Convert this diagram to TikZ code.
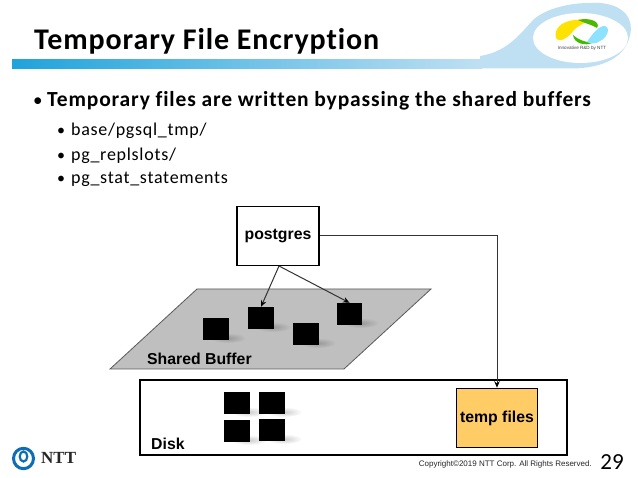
\documentclass[tikz,border=0pt]{standalone}
\usepackage{fontspec}
\setmainfont{Carlito}
\newfontfamily\arial{Liberation Sans}
\newfontfamily\nttfont{Liberation Serif}
\newfontfamily\titlefont[LetterSpace=3,Ligatures=NoCommon]{Carlito}
\newfontfamily\bodyfont[LetterSpace=4,Ligatures=NoCommon]{Carlito}
\usetikzlibrary{arrows.meta,shadings,fadings}
\tikzfading[name=softfade,inner color=transparent!0,outer color=transparent!100]
\definecolor{barL}{HTML}{1FA3DB}
\definecolor{barM}{HTML}{BFE0F3}
\definecolor{plane}{HTML}{BFBFBF}
\definecolor{tempc}{HTML}{FFCC66}
\definecolor{nttblue}{HTML}{0F6CB6}
\tikzset{
  x=1pt,y=-1pt,
  box/.style={draw=black,line width=1.5pt,fill=white,inner sep=0pt},
  lab/.style={font=\arial\bfseries\fontsize{15.8}{18}\selectfont,text=black,inner sep=0pt},
  block/.style={fill=black,draw=none,inner sep=0pt,minimum width=25.5pt,minimum height=22pt},
  conn/.style={draw=black!80,line width=1pt,-{Stealth[length=6.5pt,width=5.5pt,black]}},
  bullet1/.style={font=\bodyfont\fontsize{21.5}{24}\selectfont\bfseries,anchor=base west,inner sep=0pt},
  bullet2/.style={font=\bodyfont\fontsize{18}{21}\selectfont,anchor=base west,inner sep=0pt},
  softshadow/.style={fill=black,opacity=.2,path fading=softfade},
}
\begin{document}
\begin{tikzpicture}
\useasboundingbox (0,0) rectangle (638,478);
\fill[white] (0,0) rectangle (638,478);
% header band
\shade[left color=barL,right color=barM,shading angle=90] (12,60) rectangle (482,68.5);
\fill[barM] (480,68.5) -- (480,56) .. controls (505,52) and (517,38) .. (533,20)
  .. controls (550,5) and (580,2) .. (600,3) .. controls (625,5) and (634,20) .. (630,35) .. controls (626,56) and (605,68.5) .. (570,68.5) -- cycle;
\fill[white] (580.5,38) ellipse [x radius=47.5,y radius=25];
% logo
\fill[yellow!85!orange] (556,38) .. controls (553,27) and (565,18) .. (585,20) .. controls (590,22) and (578,25) .. (574,30) .. controls (570,36) and (560,44) .. (556,38) -- cycle;
\fill[green!60!black!70!yellow] (578,20) .. controls (590,17) and (601,22) .. (597,28) .. controls (590,24) and (584,23) .. (578,20) -- cycle;
\fill[green!65!black!75!yellow] (573,35) .. controls (574,44) and (586,46) .. (592,43) .. controls (586,42) and (578,40) .. (573,35) -- cycle;
\fill[blue!25!cyan!45] (587,42) .. controls (592,34) and (600,25) .. (605,26) .. controls (611,28) and (607,38) .. (600,41) .. controls (596,44) and (590,44) .. (587,42) -- cycle;
\node[font=\arial\fontsize{4.6}{5}\selectfont,text=black!75,inner sep=0pt] (tag) at (582,48.5) {Innovative R\&D by NTT};
% title and bullets
\node[font=\titlefont\fontsize{30}{32}\selectfont\bfseries,anchor=base west,inner sep=0pt] (title) at (34,50) {Temporary File Encryption};
\node[font=\fontsize{19}{22}\selectfont,anchor=base west,inner sep=0pt] (b0) at (33,107) {•};
\node[bullet1] (l0) at (47,107) {Temporary files are written bypassing the shared buffers};
\node[font=\fontsize{16}{20}\selectfont,anchor=base west,inner sep=0pt] (d1) at (57,136) {•};
\node[bullet2] (l1) at (71,136) {base/pgsql\_tmp/};
\node[font=\fontsize{16}{20}\selectfont,anchor=base west,inner sep=0pt] (d2) at (57,160.5) {•};
\node[bullet2] (l2) at (71,160.5) {pg\_replslots/};
\node[font=\fontsize{16}{20}\selectfont,anchor=base west,inner sep=0pt] (d3) at (57,184) {•};
\node[bullet2] (l3) at (71,184) {pg\_stat\_statements};
% plane
\fill[plane] (197,289) -- (431,289) -- (344,369) -- (110,369) -- cycle;
\draw[black!65,line width=0.8pt] (197,289) -- (431,289) -- (344,369) -- (110,369) -- cycle;
\node[lab,anchor=base west] (sb) at (147,364.5) {Shared Buffer};
% disk
\node[box,minimum width=427pt,minimum height=75pt] (disk) at (353.5,417.5) {};
\node[lab,anchor=base west] (dl) at (151,450) {Disk};
% soft shadows
\foreach \px/\py in {216/329,261/318,306/334,349/314,237/403,272/403,237/431,272/430}
  \fill[softshadow] (\px+12,\py+9) ellipse [x radius=18,y radius=5];
% blocks
\node[block] (s1) at (216,329) {};
\node[block] (s2) at (261,318) {};
\node[block] (s3) at (306,334) {};
\node[block] (s4) at (349.5,314) {};
\node[block] (k1) at (237,403.5) {};
\node[block] (k2) at (272,403) {};
\node[block] (k3) at (237,431) {};
\node[block] (k4) at (272,430.5) {};
% postgres and temp files
\node[box,minimum width=82pt,minimum height=59pt,lab] (pg) at (278,236) {postgres};
\node[box,fill=tempc,minimum width=81pt,minimum height=59pt,lab] (tf) at (497,418) {temp files};
% connectors
\coordinate (pgb) at (279,266);
\draw[conn] (pgb) -- (s2.north);
\draw[conn] (pgb) -- (s4.north);
\draw[conn] (pg.east) -- (497,236) -- (tf.north);
% footer
\draw[line width=3pt,draw=nttblue] (23.5,458.5) ellipse [x radius=10,y radius=10.2];
\draw[line width=2.2pt,draw=nttblue] (23.5,456.5) ellipse [x radius=3.8,y radius=5];
\node[font=\nttfont\fontsize{17}{18}\selectfont\bfseries,text=black!85,anchor=base west,inner sep=0pt] (ntt) at (41,464) {NTT};
\node[font=\arial\fontsize{8}{10}\selectfont,text=black!85,anchor=base east,inner sep=0pt] (cp) at (592,467) {Copyright©2019  NTT Corp. All Rights Reserved.};
\node[font=\fontsize{23}{24}\selectfont,anchor=base east,inner sep=0pt] (pn) at (624,470) {29};
\end{tikzpicture}
\end{document}
